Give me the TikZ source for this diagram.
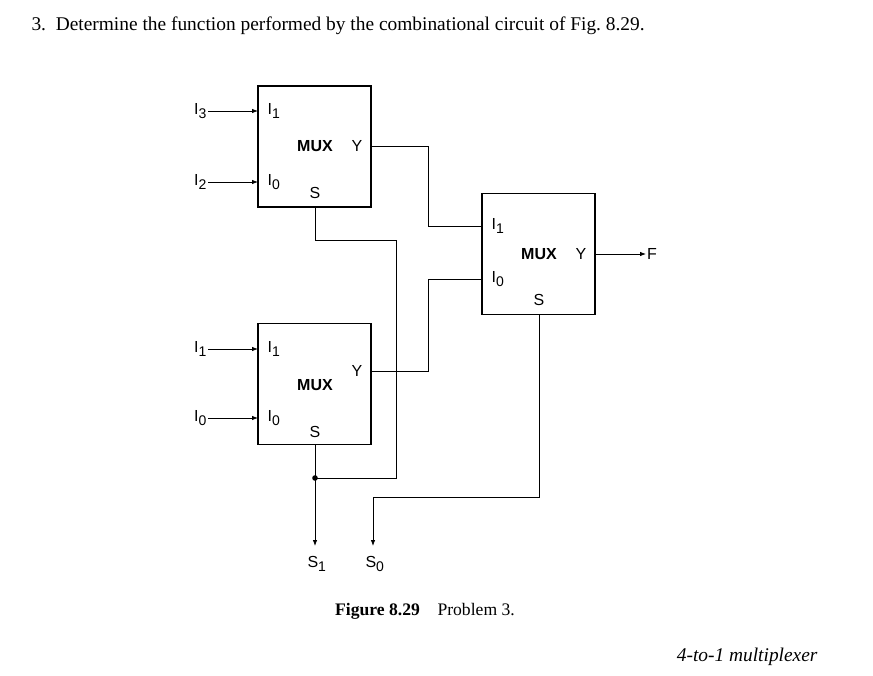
\documentclass[tikz,border=0pt]{standalone}
\usepackage{fontspec}
\setmainfont{Liberation Serif}
\newfontfamily\lsans{Liberation Sans}
\usetikzlibrary{arrows.meta}
\newcommand{\sub}[1]{\textsubscript{\fontsize{14}{14}\selectfont#1}}
\begin{document}
\begin{tikzpicture}[x=1pt,y=-1pt,
  box/.style={draw,line width=1.6pt,minimum width=113pt,minimum height=121pt,inner sep=0pt},
  lbl/.style={font=\lsans\fontsize{16}{16}\selectfont,inner sep=1pt},
  blbl/.style={lbl,font=\lsans\bfseries\fontsize{16}{16}\selectfont},
  wire/.style={line width=0.8pt},
  arr/.style={wire,-{Latex[length=6pt,width=4.5pt]}}]
\useasboundingbox (0,0) rectangle (873,675);
\node[anchor=west,font=\fontsize{19.4}{22}\selectfont] (title) at (28,26) {3.\ \ Determine the function performed by the combinational circuit of Fig.~8.29.};
% boxes
\node[box] (m1) at (314.5,146.5) {};
\node[box] (m2) at (538.5,254) {};
\node[box] (m3) at (314.5,384) {};
% labels inside
\node[lbl] (m1a) at (274,111) {I\sub{1}};
\node[lbl] (m1b) at (274,182) {I\sub{0}};
\node[blbl] (m1m) at (315,146) {MUX};
\node[lbl] (m1y) at (357,146) {Y};
\node[lbl] (m1s) at (315,193) {S};
\node[lbl] (m2a) at (498,226) {I\sub{1}};
\node[lbl] (m2b) at (498,279) {I\sub{0}};
\node[blbl] (m2m) at (539,254) {MUX};
\node[lbl] (m2y) at (581,254) {Y};
\node[lbl] (m2s) at (539,300) {S};
\node[lbl] (m3a) at (274,349) {I\sub{1}};
\node[lbl] (m3b) at (274,418) {I\sub{0}};
\node[blbl] (m3m) at (315,385) {MUX};
\node[lbl] (m3y) at (357,371) {Y};
\node[lbl] (m3s) at (315,432) {S};
% inputs
\node[lbl,anchor=east] (i3) at (208,111) {I\sub{3}};
\node[lbl,anchor=east] (i2) at (208,182) {I\sub{2}};
\node[lbl,anchor=east] (i1) at (208,349) {I\sub{1}};
\node[lbl,anchor=east] (i0) at (208,418) {I\sub{0}};
\draw[arr] (i3.east) -- (258,111);
\draw[arr] (i2.east) -- (258,182);
\draw[arr] (i1.east) -- (258,349);
\draw[arr] (i0.east) -- (258,418);
% outputs
\node[lbl] (s1) at (317,564) {S\sub{1}};
\node[lbl] (s0) at (375,564) {S\sub{0}};
\node[lbl,anchor=west] (f) at (646,254) {F};
\coordinate (dot) at (315,478);
\coordinate (s1e) at (315,546);
\coordinate (s0e) at (373,546);
\draw[wire] (371,146) -- (428,146) -- (428,226) -- (482,226);
\draw[wire] (371,371) -- (428,371) -- (428,279) -- (482,279);
\draw[wire] (315,207) -- (315,240) -- (396,240) -- (396,478) -- (dot);
\draw[arr] (315,444) -- (s1e);
\draw[arr] (539,314) -- (539,497) -- (373,497) -- (s0e);
\draw[arr] (595,254) -- (f.west);
\fill (dot) circle (2.8pt);
% caption
\node[font=\fontsize{17.6}{20}\selectfont] (cap) at (425,611) {\textbf{Figure 8.29}\quad Problem 3.};
\node[anchor=east,font=\itshape\fontsize{19.4}{22}\selectfont] (note) at (821,657) {4-to-1 multiplexer};
\end{tikzpicture}
\end{document}
